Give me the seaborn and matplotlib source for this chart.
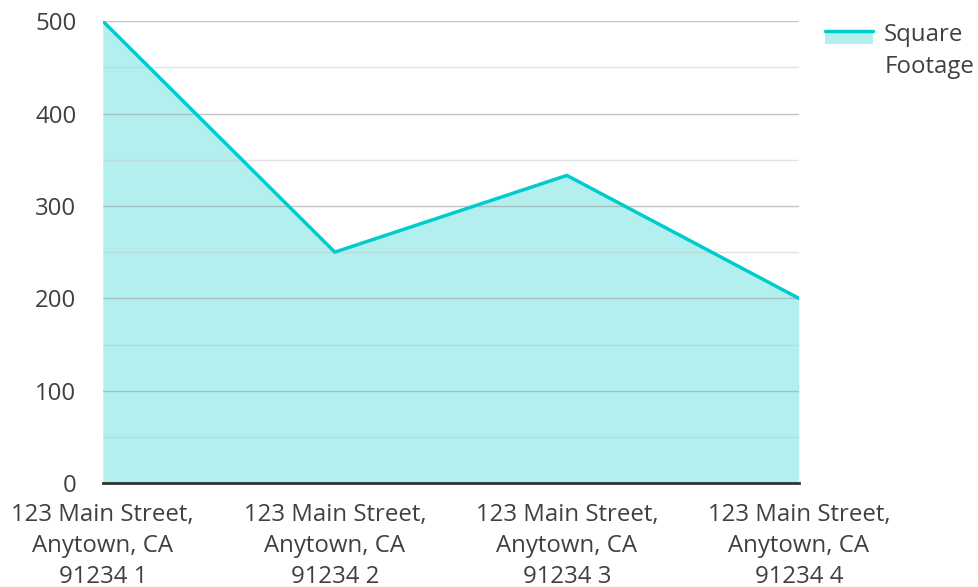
import matplotlib
matplotlib.use("Agg")
import matplotlib.pyplot as plt
import seaborn as sns
import pandas as pd
from matplotlib.legend_handler import HandlerBase
from matplotlib.patches import Rectangle
from matplotlib.lines import Line2D
from matplotlib.ticker import MultipleLocator

# Data
addresses = ["123 Main Street,\nAnytown, CA\n91234 1",
             "123 Main Street,\nAnytown, CA\n91234 2",
             "123 Main Street,\nAnytown, CA\n91234 3",
             "123 Main Street,\nAnytown, CA\n91234 4"]
square_footage = [500, 250, 333, 200]

line_color = "#00CCCC"
fill_color = "#B2EFEE"
text_color = "#404040"

df = pd.DataFrame({"pos": range(len(addresses)), "sqft": square_footage})

sns.set_style("white")
plt.rcParams['font.family'] = ['Open Sans', 'DejaVu Sans']

fig = plt.figure(figsize=(9.79, 5.87), dpi=100)
ax = fig.add_axes([0.105, 0.177, 0.711, 0.787])

ax.fill_between(df["pos"], df["sqft"], 0, color=fill_color, lw=0, zorder=2)
sns.lineplot(data=df, x="pos", y="sqft", color=line_color, linewidth=2.5, ax=ax, zorder=3)

ax.set_xlim(0, len(addresses) - 1)
ax.set_ylim(0, 500)
ax.yaxis.set_major_locator(MultipleLocator(100))
ax.yaxis.set_minor_locator(MultipleLocator(50))
# gridlines sit on top of the fill, slightly transparent
ax.set_axisbelow(False)
ax.grid(which="major", axis="y", color="#A0A0A0", alpha=0.6, linewidth=1)
ax.grid(which="minor", axis="y", color="#C8C8C8", alpha=0.5, linewidth=1)

ax.set_xticks(range(len(addresses)))
ax.set_xticklabels(addresses, fontsize=17.3, color=text_color, linespacing=1.4)
ax.tick_params(axis="y", labelsize=17.3, labelcolor=text_color, length=0, pad=19)
ax.tick_params(axis="x", length=0, pad=14)
ax.tick_params(which="minor", length=0)
ax.set_xlabel("")
ax.set_ylabel("")

for s in ["top", "right", "left"]:
    ax.spines[s].set_visible(False)
ax.spines["bottom"].set_color("#333333")
ax.spines["bottom"].set_linewidth(2)
ax.spines["bottom"].set_zorder(4)


class AreaHandler(HandlerBase):
    # line on top of a filled strip, lifted to the first text line
    def create_artists(self, legend, orig, xd, yd, width, height, fontsize, trans):
        top = -yd + 21.0
        rect = Rectangle((-xd, top - 9.4), width, 9.4, facecolor=fill_color,
                         edgecolor="none", transform=trans)
        ln = Line2D([-xd, -xd + width], [top, top], color=line_color,
                    linewidth=2.5, transform=trans)
        return [rect, ln]


handle = Rectangle((0, 0), 1, 1)
leg = fig.legend([handle], ["Square\nFootage"], handler_map={Rectangle: AreaHandler()},
                 loc="upper left", bbox_to_anchor=(0.843, 0.960), frameon=False,
                 fontsize=17.3, handlelength=2.0, handleheight=0.7, handletextpad=0.45,
                 borderpad=0, borderaxespad=0)
for t in leg.get_texts():
    t.set_color(text_color)
    t.set_linespacing(1.4)

fig.savefig("out.png", dpi=100)
